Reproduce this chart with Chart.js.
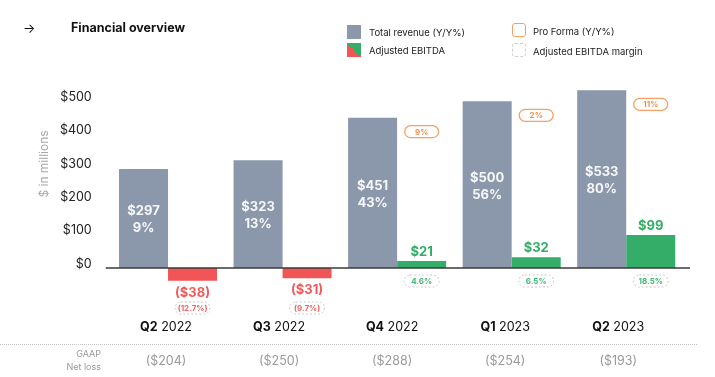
<!DOCTYPE html>
<html lang="en">
<head>
<meta charset="UTF-8">
<title>Financial overview</title>
<script src="https://cdn.jsdelivr.net/npm/chart.js"></script>
<style>
    body {
        margin: 0;
        background: #ffffff;
        font-family: Inter, "Noto Sans", sans-serif;
    }
    .wrap {
        position: relative;
        width: 715px;
        height: 377px;
        overflow: hidden;
    }
    #chart {
        position: absolute;
        left: 0;
        top: 0;
    }
    .txt {
        position: absolute;
        white-space: nowrap;
        line-height: 1;
        color: #222;
    }
    .arrow { left: 23px; top: 22px; font-size: 13px; color: #111; }
    .title { left: 71px; top: 22px; font-size: 12.5px; font-weight: 700; color: #111; }
    .legend-text { font-size: 9.5px; }
    .sw {
        position: absolute;
        width: 14px;
        height: 14px;
        box-sizing: border-box;
    }
    .sw-rev { left: 347px; top: 25px; background: #8b97ab; }
    .sw-ebitda { left: 347px; top: 43px; background: linear-gradient(to bottom left, #33ad68 50%, #f25555 50%); }
    .sw-pro { left: 512px; top: 23px; border: 1.5px solid #f7a063; border-radius: 3px; }
    .sw-margin { left: 512px; top: 43px; border: 1px dashed #cfcfcf; border-radius: 3px; }
</style>
</head>
<body>
<div class="wrap">
    <canvas id="chart" width="715" height="377"></canvas>

    <div class="txt arrow">&rarr;</div>
    <div class="txt title">Financial overview</div>

    <div class="sw sw-rev"></div>
    <div class="txt legend-text" style="left:369px; top:28px;">Total revenue (Y/Y%)</div>
    <div class="sw sw-ebitda"></div>
    <div class="txt legend-text" style="left:369px; top:46px;">Adjusted EBITDA</div>

    <div class="sw sw-pro"></div>
    <div class="txt legend-text" style="left:533px; top:27px;">Pro Forma (Y/Y%)</div>
    <div class="sw sw-margin"></div>
    <div class="txt legend-text" style="left:533px; top:47px;">Adjusted EBITDA margin</div>
</div>

<script>
// Data
const quarters = ['Q2', 'Q3', 'Q4', 'Q1', 'Q2'];
const years = ['2022', '2022', '2022', '2023', '2023'];
const revenue = [297, 323, 451, 500, 533];
const revenueGrowth = ['9%', '13%', '43%', '56%', '80%'];
const ebitda = [-38, -31, 21, 32, 99];
const ebitdaMargin = ['(12.7%)', '(9.7%)', '4.6%', '6.5%', '18.5%'];
const proForma = [null, null, '9%', '2%', '11%'];
const gaapNetLoss = ['($204)', '($250)', '($288)', '($254)', '($193)'];
const yTicks = [0, 100, 200, 300, 400, 500];

const FONT = 'Inter, "Noto Sans", sans-serif';
const GREY = '#8b97ab';
const RED = '#f25555';
const GREEN = '#33ad68';

function money(v) {
    return v < 0 ? '($' + Math.abs(v) + ')' : '$' + v;
}

function pill(ctx, x, y, w, h) {
    const r = h / 2;
    ctx.beginPath();
    ctx.moveTo(x - w / 2 + r, y - r);
    ctx.lineTo(x + w / 2 - r, y - r);
    ctx.arc(x + w / 2 - r, y, r, -Math.PI / 2, Math.PI / 2);
    ctx.lineTo(x - w / 2 + r, y + r);
    ctx.arc(x - w / 2 + r, y, r, Math.PI / 2, Math.PI * 1.5);
    ctx.closePath();
}

// column position for the text rows under the chart (they sit a bit left of the bars)
function rowX(chart, i) {
    return chart.scales.x.getPixelForValue(i) - 2 - i * 1.5;
}

const overlay = {
    id: 'overlay',
    afterDatasetsDraw(chart) {
        const ctx = chart.ctx;
        const area = chart.chartArea;
        const y = chart.scales.y;
        const zeroY = y.getPixelForValue(0);
        const revBars = chart.getDatasetMeta(0).data;
        const ebBars = chart.getDatasetMeta(1).data;

        ctx.save();

        // zero line
        ctx.strokeStyle = '#3a3a3a';
        ctx.lineWidth = 1.5;
        ctx.beginPath();
        ctx.moveTo(area.left - 5, zeroY);
        ctx.lineTo(area.right + 6.5, zeroY);
        ctx.stroke();

        ctx.textAlign = 'center';
        ctx.textBaseline = 'middle';

        // revenue labels inside bars
        revBars.forEach((bar, i) => {
            const mid = (bar.y + bar.base) / 2 + 1;
            ctx.fillStyle = '#f7f7f9';
            ctx.font = '700 13px ' + FONT;
            ctx.fillText(money(revenue[i]), bar.x, mid - 8);
            ctx.fillText(revenueGrowth[i], bar.x, mid + 9);
        });

        // EBITDA labels and margin badges
        ebBars.forEach((bar, i) => {
            const v = ebitda[i];
            ctx.font = '700 13px ' + FONT;
            if (v < 0) {
                ctx.fillStyle = '#f05a5a';
                ctx.fillText(money(v), bar.x, bar.y + 12);
            } else {
                ctx.fillStyle = GREEN;
                ctx.fillText(money(v), bar.x, bar.y - 9);
            }

            const by = v < 0 ? zeroY + 40 : zeroY + 13;
            ctx.setLineDash([2, 2]);
            ctx.lineWidth = 1;
            ctx.strokeStyle = '#c9c9c9';
            pill(ctx, bar.x, by, 35, 12);
            ctx.stroke();
            ctx.setLineDash([]);
            ctx.font = '700 8px ' + FONT;
            ctx.fillStyle = v < 0 ? '#f06262' : '#3fb874';
            ctx.fillText(ebitdaMargin[i], bar.x, by + 0.5);

            // pro forma badge
            if (proForma[i]) {
                const py = revBars[i].y + 14;
                ctx.lineWidth = 1.3;
                ctx.strokeStyle = '#f7a063';
                pill(ctx, bar.x, py, 34, 12);
                ctx.fillStyle = '#ffffff';
                ctx.fill();
                ctx.stroke();
                ctx.fillStyle = '#f3904a';
                ctx.font = '700 8px ' + FONT;
                ctx.fillText(proForma[i], bar.x, py + 0.5);
            }
        });

        // quarter labels
        ctx.fillStyle = '#111111';
        ctx.textAlign = 'left';
        quarters.forEach((q, i) => {
            const cx = rowX(chart, i);
            ctx.font = '700 12.5px ' + FONT;
            const w1 = ctx.measureText(q).width;
            ctx.font = '400 12.5px ' + FONT;
            const w2 = ctx.measureText(' ' + years[i]).width;
            const x0 = cx - (w1 + w2) / 2;
            ctx.font = '700 12.5px ' + FONT;
            ctx.fillText(q, x0, 327);
            ctx.font = '400 12.5px ' + FONT;
            ctx.fillText(' ' + years[i], x0 + w1, 327);
        });

        // dotted separator
        ctx.strokeStyle = '#c4c4c4';
        ctx.lineWidth = 1;
        ctx.setLineDash([1, 1]);
        ctx.beginPath();
        ctx.moveTo(0, 344.5);
        ctx.lineTo(697, 344.5);
        ctx.stroke();
        ctx.setLineDash([]);

        // GAAP net loss row
        ctx.fillStyle = '#9a9a9a';
        ctx.textAlign = 'right';
        ctx.font = '400 9px ' + FONT;
        ctx.fillText('GAAP', 101, 354);
        ctx.fillText('Net loss', 101, 367);
        ctx.textAlign = 'center';
        ctx.font = '400 12.5px ' + FONT;
        gaapNetLoss.forEach((t, i) => {
            ctx.fillText(t, rowX(chart, i), 361);
        });

        // y axis title
        ctx.translate(44, 164);
        ctx.rotate(-Math.PI / 2);
        ctx.fillStyle = '#a8a8a8';
        ctx.font = '400 12px ' + FONT;
        ctx.fillText('$ in millions', 0, 0);

        ctx.restore();
    }
};

const ctx = document.getElementById('chart').getContext('2d');
new Chart(ctx, {
    type: 'bar',
    data: {
        labels: quarters.map((q, i) => q + ' ' + years[i]),
        datasets: [{
            label: 'Total revenue (Y/Y%)',
            data: revenue,
            backgroundColor: GREY
        }, {
            label: 'Adjusted EBITDA',
            data: ebitda,
            backgroundColor: ebitda.map(v => v < 0 ? RED : GREEN)
        }]
    },
    options: {
        responsive: false,
        animation: false,
        events: [],
        categoryPercentage: 0.856,
        barPercentage: 1.0,
        layout: {
            padding: { left: 0, right: 31.5, top: 80, bottom: 57 }
        },
        plugins: {
            legend: { display: false },
            tooltip: { enabled: false }
        },
        scales: {
            x: {
                display: false,
                grid: { display: false }
            },
            y: {
                min: -156,
                max: 564,
                grid: { display: false },
                border: { display: false },
                afterBuildTicks: scale => {
                    scale.ticks = yTicks.map(v => ({ value: v }));
                },
                afterFit: scale => {
                    scale.width = 110.75;
                },
                ticks: {
                    padding: 11,
                    labelOffset: -4,
                    color: '#222222',
                    font: { family: FONT, size: 12.5 },
                    callback: v => '$' + v
                }
            }
        }
    },
    plugins: [overlay]
});
</script>
</body>
</html>
